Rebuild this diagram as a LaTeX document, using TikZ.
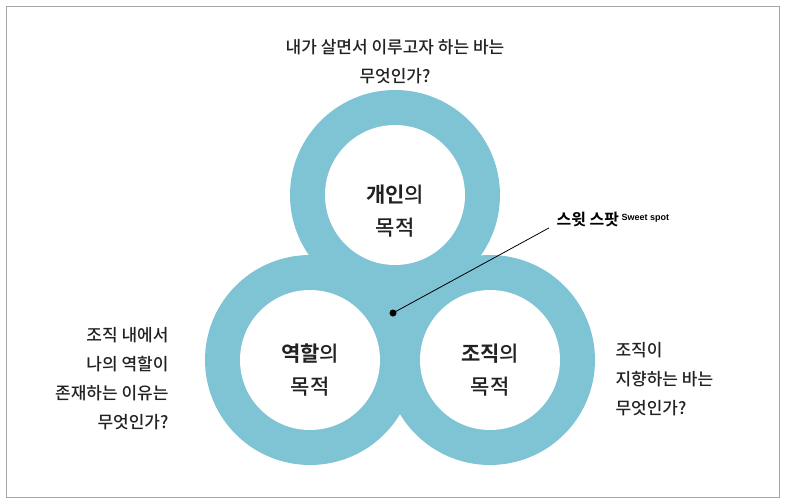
\documentclass[tikz,border=0pt]{standalone}
\usepackage{fontspec}
\setmainfont{Noto Sans CJK KR Medium}
\newfontfamily\krbold{Noto Sans CJK KR Bold}
\newcommand{\bk}[1]{{\krbold #1}}
\definecolor{ringteal}{HTML}{7FC4D4}
\definecolor{inkgray}{HTML}{222222}
\tikzset{
  outerdisc/.style={fill=ringteal},
  innerdisc/.style={fill=white},
  caption/.style={text=inkgray, font=\fontsize{17}{29}\selectfont, align=center},
  goal/.style={text=inkgray, font=\fontsize{21}{33}\selectfont, align=center}
}

\begin{document}
\begin{tikzpicture}[x=1pt,y=-1pt]
          \useasboundingbox (0,0) rectangle (785,503);
          \draw[gray!70] (6,6) rectangle (779,497);

          % rings
          \fill[outerdisc] (395,195) circle (105);
          \fill[outerdisc] (310,360) circle (105);
          \fill[outerdisc] (490,360) circle (105);
          \fill[outerdisc] (395,195) -- (310,360) -- (490,360) -- cycle;
          \fill[innerdisc] (395,195) circle (70);
          \fill[innerdisc] (310,360) circle (70);
          \fill[innerdisc] (490,360) circle (70);

          \node[goal] (self) at (395,211) {\bk{개인}의\\목적};
          \node[goal] (role) at (310,370) {\bk{역할}의\\목적};
          \node[goal] (org) at (490,370) {\bk{조직}의\\목적};

          \node[caption] (qself) at (395,62) {내가 살면서 이루고자 하는 바는\\무엇인가?};
          \node[caption, align=right, anchor=east] (qrole) at (172,379) {조직 내에서\\나의 역할이\\존재하는 이유는\\무엇인가?};
          \node[caption, align=left, anchor=west] (qorg) at (612,379) {조직이\\지향하는 바는\\무엇인가?};

          \coordinate (spot) at (393,313);
          \node[text=black, anchor=west, font=\fontsize{16}{18}\selectfont] (sweet) at (553,219)
            {\bk{스윗 스팟}\,\raisebox{5pt}{\fontspec{Liberation Sans}\bfseries\fontsize{9}{10}\selectfont Sweet spot}};
          \fill (spot) circle (3.5);
          \draw[line width=0.8pt] (spot) -- ([xshift=-4pt,yshift=2pt]sweet.south west);
        \end{tikzpicture}
\end{document}
